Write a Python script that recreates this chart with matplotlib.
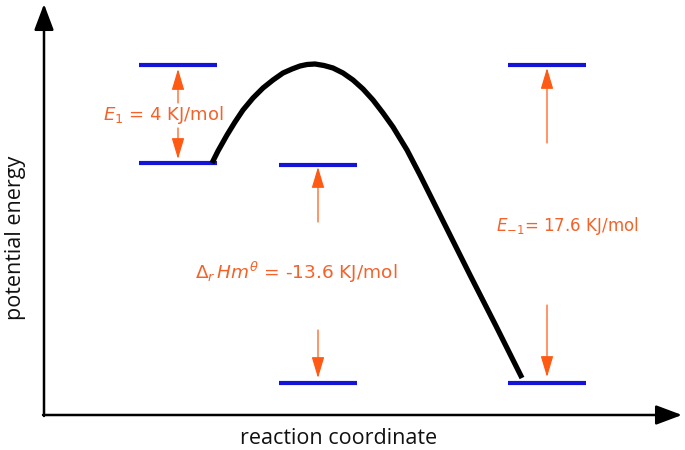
import numpy as np
import matplotlib
matplotlib.use("Agg")
import matplotlib.pyplot as plt

# schematic energy diagram, heights in drawing units (0 at the bottom)
stage_x = [178, 318, 547]
upper_E = [385, 285, 385]
lower_E = [287, 67, 67]

curve_x = [212, 218, 227, 235, 243, 253, 263, 273, 283, 292, 300, 307, 315, 324, 333,
           343, 353, 363, 373, 383, 393, 407, 420, 447, 470, 496, 522]
curve_E = [287, 299, 315, 328, 340, 352, 362, 370, 377, 381, 384, 385.5, 386, 384.5, 382,
           377, 370, 361, 350, 337, 323, 300, 275, 221, 175, 124, 72]

arrow_up_from = [347, 228, 307]
arrow_up_to = [381, 283, 382]
arrow_down_from = [322, 120, 145]
arrow_down_to = [291, 72, 73]

labels = [r"$E_1$ = 4 KJ/mol",
          r"$\Delta_r\,Hm^{\theta}$ = -13.6 KJ/mol",
          r"$E_{-1}$= 17.6 KJ/mol"]
label_x = [103, 195, 496]
label_E = [335, 178, 224]
label_size = [13, 13.3, 12]

orange = "#f4622a"
blue = "#1414d8"

fig = plt.figure(figsize=(6.85, 4.5), dpi=100)
ax = fig.add_axes([0, 0, 1, 1])
ax.set_xlim(0, 685)
ax.set_ylim(0, 450)
ax.set_axis_off()

# axes with arrow heads
ax.annotate("", xy=(44, 446), xytext=(44, 34),
            arrowprops=dict(arrowstyle="-|>,head_length=0.8,head_width=0.3",
                            color="black", lw=1.8, mutation_scale=20, shrinkA=0, shrinkB=0))
ax.annotate("", xy=(682, 35), xytext=(43, 35),
            arrowprops=dict(arrowstyle="-|>,head_length=0.8,head_width=0.3",
                            color="black", lw=1.8, mutation_scale=20, shrinkA=0, shrinkB=0))

# energy levels
half_w = 39
for x, hi, lo in zip(stage_x, upper_E, lower_E):
    ax.plot([x - half_w, x + half_w], [hi, hi], color=blue, lw=3, solid_capstyle="butt")
    ax.plot([x - half_w, x + half_w], [lo, lo], color=blue, lw=3, solid_capstyle="butt")

# reaction path
ax.plot(curve_x, curve_E, color="black", lw=3.8, solid_joinstyle="round", solid_capstyle="butt")

# orange arrows
style = "-|>,head_length=1.0,head_width=0.3"
for x, a, b in zip(stage_x, arrow_up_from, arrow_up_to):
    ax.annotate("", xy=(x, b), xytext=(x, a),
                arrowprops=dict(arrowstyle=style, color="#ff5a14", lw=0.9,
                                mutation_scale=13, shrinkA=0, shrinkB=0))
for x, a, b in zip(stage_x, arrow_down_from, arrow_down_to):
    ax.annotate("", xy=(x, b), xytext=(x, a),
                arrowprops=dict(arrowstyle=style, color="#ff5a14", lw=0.9,
                                mutation_scale=13, shrinkA=0, shrinkB=0))

for txt, x, y, s in zip(labels, label_x, label_E, label_size):
    ax.text(x, y, txt, color=orange, fontsize=s, ha="left", va="center")

ax.text(339, 12, "reaction coordinate", fontsize=15.5, family="Open Sans",
        ha="center", va="center", color="#111111")
ax.text(16, 212, "potential energy", fontsize=15.5, family="Open Sans", rotation=90,
        ha="center", va="center", color="#111111")

fig.savefig("out.png", dpi=100)
